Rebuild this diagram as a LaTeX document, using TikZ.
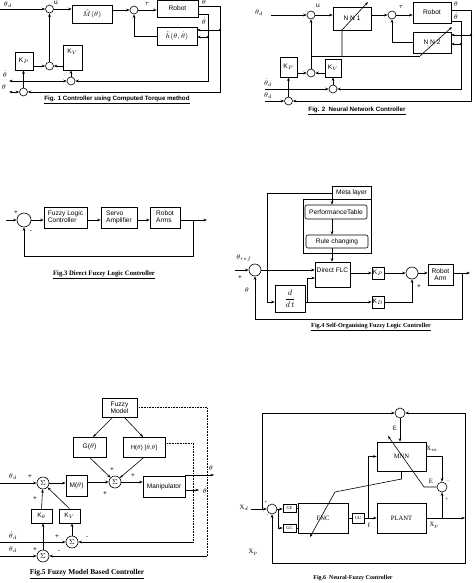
\documentclass[tikz,border=0pt]{standalone}
\usepackage{fontspec}
\setmainfont{Liberation Sans}
\newfontfamily\serifA{Liberation Serif}
\usetikzlibrary{arrows.meta,fit}
\newcommand\fsa{\fontsize{6.6}{7.2}\selectfont}
\newcommand\fsb{\fontsize{4.4}{5}\selectfont}
\newcommand\mybox[6]{\node[bx,fit={(#2,#3) (#4,#5)},label={[lbl]center:{#6}}] (#1) {};}
\begin{document}
\begin{tikzpicture}[x=1pt,y=-1pt,
  ln/.style={line width=0.6pt},
  ar/.style={line width=0.6pt,-{Stealth[length=3.5pt,width=2.6pt]}},
  arr/.style={line width=0.6pt,{Stealth[length=3.5pt,width=2.6pt]}-{Stealth[length=3.5pt,width=2.6pt]}},
  bx/.style={draw,line width=0.6pt,inner sep=0pt},
  lbl/.style={font=\fsa,align=center,inner sep=0pt},
  txt/.style={font=\fsa,inner sep=0pt},
  sg/.style={font=\fsa,inner sep=0pt},
  sm/.style={draw,circle,line width=0.6pt,inner sep=0pt,minimum size=8pt},
  sig/.style={draw,circle,line width=0.6pt,inner sep=0pt,minimum size=12pt,font=\fsa},
  capa/.style={font=\fontsize{6.2}{7}\selectfont\bfseries,inner sep=0pt},
  dt/.style={circle,fill,inner sep=0pt,minimum size=2.6pt}]
\useasboundingbox (0,0) rectangle (474,583);
\fill[white] (0,0) rectangle (474,583);

% ---------------- Fig 1 ----------------
\node[sm] (a1) at (49.5,9) {};
\mybox{aM}{72}{5}{112}{23}{$\hat M(\theta)$}
\node[sm] (a2) at (134,10) {};
\mybox{aR}{157}{0}{198}{17}{Robot}
\mybox{aH}{157}{27}{197}{45}{$\hat h(\theta,\dot\theta)$}
\mybox{aKp}{15}{52}{33}{70}{K$_P$}
\node[bx,fit={(63,45) (82,70)}] (aKv) {};
\node[txt] (aKvt) at (72.5,52) {K$_V$};
\node[sm] (a3) at (49.5,66) {};
\node[sm] (a4) at (71,81) {};
\node[sm] (a5) at (23.5,92) {};
\coordinate (aIn) at (0,9);
\draw[ar] (aIn) -- (a1);
\draw[ar] (a1) -- (a1 -| aM.west);
\draw[ar] (aM.east |- a2) -- (a2);
\draw[ar] (a2) -- (a2 -| aR.west);
\draw[ar] (198,6) -- (220,6) -- (220,92) -- (a5);
\draw[ar] (198,14) -- (208,14) -- (208,81) -- (a4);
\node[dt] (aD1) at (220,30) {};
\node[dt] (aD2) at (208,37) {};
\draw[ar] (aD1) -- (197,30);
\draw[ar] (aD2) -- (197,37);
\draw[ar] (aH.west) -- (134,36) -- (a2);
\draw[ar] (a3) -- (a1);
\draw[ar] (aKp.east |- a3) -- (a3);
\draw[ar] (aKv.west |- a3) -- (a3);
\draw[ar] (a4) -- (a4 |- aKv.south);
\draw[ar] (a5) -- (a5 |- aKp.south);
\coordinate (aL1) at (9,81);
\coordinate (aL2) at (9,92);
\draw[arr] (aL1) -- (a4);
\draw[arr] (aL2) -- (a5);
\node[txt] (aTdd) at (8,3.5) {$\ddot\theta_d$};
\node[txt] (au) at (56,2.5) {u};
\node[txt] (atau) at (147,3.5) {$\tau$};
\node[txt] (ath) at (204,2.5) {$\theta$};
\node[txt] (athd) at (204,21.5) {$\dot\theta$};
\node[txt] (aLd) at (5,74.5) {$\dot\theta$};
\node[txt] (aLt) at (4,87) {$\theta$};
\node[capa] (acap) at (117,100) {\underline{Fig. 1 Controller using Computed Torque method}};

% ---------------- Fig 2 ----------------
\node[sm] (b1) at (311,15) {};
\mybox{bN1}{333}{7}{371}{30}{N N 1}
\node[sm] (b2) at (392,15) {};
\mybox{bR}{413}{2}{451}{23}{Robot}
\mybox{bN2}{413}{32}{451}{53}{N N 2}
\mybox{bKp}{280}{57}{297}{77}{K$_P$}
\mybox{bKv}{325}{59}{341}{77}{K$_V$}
\node[sm] (b3) at (311,73) {};
\node[sm] (b4) at (333,89) {};
\node[sm] (b5) at (288.5,101) {};
\coordinate (bIn) at (271,15);
\draw[ar] (bIn) -- (b1);
\draw[ar] (b1) -- (b1 -| bN1.west);
\draw[ar] (bN1.east |- b2) -- (b2);
\draw[ar] (b2) -- (b2 -| bR.west);
\draw[ar] (451,10) -- (471,10) -- (471,101) -- (b5);
\draw[ar] (451,21) -- (461,21) -- (461,89) -- (b4);
\node[dt] (bD1) at (471,35) {};
\node[dt] (bD2) at (461,44) {};
\draw[ar] (bD1) -- (451,35);
\draw[ar] (bD2) -- (451,44);
\draw[ar] (bN2.west) -- (392,42.5) -- (b2);
\draw[ar] (b3) -- (b1);
\draw[ar] (bKp.east |- b3) -- (b3);
\draw[ar] (bKv.west |- b3) -- (b3);
\draw[ar] (b4) -- (b4 |- bKv.south);
\draw[ar] (b5) -- (b5 |- bKp.south);
\coordinate (bL1) at (265,89);
\coordinate (bL2) at (265,101);
\draw[ar] (bL1) -- (b4);
\draw[ar] (bL2) -- (b5);
\draw[ln] (311,56) -- (420,56);
\draw[ar] (420,56) -- (452,27);
\draw[ar] (342,56) -- (342,30) -- (368,2);
\node[txt] (btd) at (259,12.5) {$\theta_d$};
\node[txt] (bu) at (318,5.5) {u};
\node[txt] (btau) at (401,7) {$\tau$};
\node[txt] (bth) at (456,4.5) {$\theta$};
\node[txt] (bthd) at (456,16.5) {$\dot\theta$};
\node[txt] (bLd) at (268,83) {$\dot\theta_d$};
\node[txt] (bLt) at (268,96) {$\theta_d$};
\node[capa] (bcap) at (357,111) {\underline{Fig. 2\ \ Neural Network Controller}};

% ---------------- Fig 3 ----------------
\node[sm,minimum size=14pt] (c1) at (24,220) {};
\mybox{cF}{44}{207}{87}{228}{\begin{tabular}{@{}l@{}}Fuzzy Logic\\Controller\end{tabular}}
\mybox{cS}{101}{207}{137}{228}{\begin{tabular}{@{}l@{}}Servo\\Amplifier\end{tabular}}
\mybox{cR}{150}{207}{180}{228}{\begin{tabular}{@{}l@{}}Robot\\Arms\end{tabular}}
\coordinate (cIn) at (6,220);
\coordinate (cOut) at (207,220);
\draw[ar] (cIn) -- (c1);
\draw[ar] (c1) -- (c1 -| cF.west);
\draw[ar] (cF.east |- c1) -- (c1 -| cS.west);
\draw[ar] (cS.east |- c1) -- (c1 -| cR.west);
\draw[ar] (cR.east |- c1) -- (cOut);
\draw[ar] (193,220) -- (193,256) -- (24,256) -- (c1);
\node[sg] (cp) at (16,213) {+};
\node[sg] (cm) at (31,231) {-};
\node[inner sep=0pt,font=\fontsize{6.7}{7}\selectfont\serifA\bfseries] (ccap) at (104,275) {\underline{Fig.3 Direct Fuzzy Logic Controller}};

% ---------------- Fig 4 ----------------
\node[draw,line width=0.4pt,fit={(303,199) (371,253)},inner sep=0pt] (dMeta) {};
\node[draw,line width=0.4pt,fit={(332,186) (371,199)},inner sep=0pt,label={[lbl]center:Meta layer}] (dTab) {};
\node[draw,rounded corners=2pt,line width=0.6pt,fit={(305,205) (367,219)},inner sep=0pt,label={[lbl]center:PerformanceTable}] (dPT) {};
\node[draw,rounded corners=2pt,line width=0.6pt,fit={(306,235) (368,248)},inner sep=0pt,label={[lbl]center:Rule changing}] (dRC) {};
\coordinate (dx) at (332,0);
\draw[ar] (dx |- dPT.south) -- (dx |- dRC.north);
\node[bx,fit={(315,262) (350,287)}] (dF) {};
\node[txt] (dFt) at (332.5,270) {Direct FLC};
\draw[ar] (dx |- dRC.south) -- (dx |- dF.north);
\node[sm,minimum size=12pt] (d1) at (255,270) {};
\coordinate (dIn) at (235,270);
\draw[ar] (dIn) -- (d1);
\draw[ar] (d1) -- (d1 -| dF.west);
\draw[ar] (267,270) -- (267,193) -- (332,193) -- (dx |- dPT.north);
\mybox{dD}{275}{285}{305}{312}{\fontsize{8}{9}\selectfont$\displaystyle\frac{d}{d\,t}$}
\draw[ar] (267,270) -- (267,302) -- (dD.west |- 0,302);
\mybox{dKD}{372}{296}{384}{308}{K$_D$}
\mybox{dKP}{372}{267}{384}{279}{K$_P$}
\draw[ar] (dD.east |- dKD) -- (dKD);
\draw[ar] (307.5,302) -- (307.5,278) -- (315,278);
\draw[ar] (dF.east |- dKP) -- (dKP);
\node[sm,minimum size=12pt] (d2) at (412,273) {};
\draw[ar] (dKP) -- (d2);
\draw[ar] (dKD) -- (d2 |- dKD) -- (d2);
\mybox{dRA}{428}{264}{453}{285}{Robot\\Arm}
\draw[ar] (d2) -- (d2 -| dRA.west);
\coordinate (dOut) at (470,273);
\draw[ar] (dRA.east |- d2) -- (dOut);
\draw[ar] (462,273) -- (462,319) -- (255,319) -- (d1);
\node[txt] (dref) at (244,258.5) {$\theta_{ref}$};
\node[sg] (dp1) at (240,278) {+};
\node[sg] (dp2) at (419,287) {+};
\node[txt] (dth) at (247,290) {$\theta$};
\node[inner sep=0pt,font=\fontsize{6.2}{7}\selectfont\serifA\bfseries] (dcap) at (371,327) {\underline{Fig.4 Self-Organising Fuzzy Logic Controller}};

% ---------------- Fig 5 ----------------
\mybox{eFM}{102}{398}{137}{417}{Fuzzy\\Model}
\mybox{eG}{73}{437}{106}{457}{G($\theta$)}
\mybox{eH}{123}{437}{165}{457}{\fontsize{6}{7}\selectfont H($\theta$) [$\dot\theta$,$\theta$]}
\draw[ar] (113,417) -- (93,437);
\draw[ar] (124,417) -- (143,437);
\node[sig] (e1) at (43,483) {$\Sigma$};
\mybox{eM}{66}{475}{87}{496}{M($\theta$)}
\node[sig] (e2) at (115,482) {$\Sigma$};
\mybox{eMa}{143}{476}{185}{497}{Manipulator}
\mybox{eKt}{31}{509}{52}{523}{K$_\theta$}
\mybox{eKv}{59}{509}{80}{523}{K$_V$}
\node[sig] (e3) at (72,542) {$\Sigma$};
\node[sig] (e4) at (43,556) {$\Sigma$};
\coordinate (eIn) at (0,483);
\draw[ar] (eIn) -- (e1);
\draw[ar] (e1) -- (e1 -| eM.west);
\draw[ar] (eM.east |- e2) -- (e2);
\draw[ar] (e2) -- (e2 -| eMa.west);
\draw[ar] (eG.south) -- (e2);
\draw[ar] (eH.south) -- (e2);
\draw[ar] (185,475) -- (214,475);
\draw[ar] (185,490) -- (199,490);
\draw[ar] (eKt.north) -- (e1);
\draw[ar] (eKv.north) -- (e1);
\draw[ar] (e3) -- (e3 |- eKv.south);
\draw[ar] (e4) -- (e4 |- eKt.south);
\coordinate (eL1) at (0,542);
\coordinate (eL2) at (0,556);
\draw[ar] (eL1) -- (e3);
\draw[ar] (eL2) -- (e4);
\draw[ln,densely dotted] (eFM.east) -- (207,407.5) -- (207,556);
\draw[ar] (207,556) -- (e4);
\draw[ln,densely dotted] (eH.east |- 0,443) -- (193,443) -- (193,542);
\draw[ar] (193,542) -- (e3);
\node[txt] (etd) at (13,476.5) {$\theta_d$};
\node[txt] (etdd) at (13,536) {$\dot\theta_d$};
\node[txt] (etd2) at (13,549.5) {$\theta_d$};
\node[txt] (eo1) at (211,468) {$\theta$};
\node[txt] (eo2) at (205,490) {$\dot\theta$};
\node[sg] (ep1) at (30,477) {+};
\node[sg] (ep2) at (35,499) {+};
\node[sg] (ep3) at (112,470) {+};
\node[sg] (ep4) at (105,494) {+};
\node[sg] (ep5) at (133,476) {+};
\node[sg] (ep6) at (57,537) {+};
\node[sg] (em6) at (87,537) {-};
\node[sg] (ep7) at (35,550) {+};
\node[sg] (em7) at (59,551) {-};
\node[inner sep=0pt,font=\fontsize{7.4}{8}\selectfont\serifA\bfseries] (ecap) at (87,574) {\underline{Fig.5 Fuzzy Model Based Controller}};

% ---------------- Fig 6 ----------------
\node[sm,minimum size=10pt] (f1) at (400,413) {};
\node[sm,minimum size=10pt] (f2) at (272,509) {};
\node[sm,minimum size=10pt] (f3) at (442,487) {};
\mybox{fMNN}{377}{442}{426}{471}{\serifA MNN}
\mybox{fFNC}{298}{503}{348}{533}{\serifA FNC}
\mybox{fGE}{283}{504}{296}{512}{\fsb\serifA GE}
\mybox{fGC}{283}{524}{296}{532}{\fsb\serifA GC}
\mybox{fGU}{352}{513}{364}{523}{\fsb\serifA GU}
\mybox{fPL}{377}{503}{426}{533}{\serifA PLANT}
\coordinate (fIn) at (251,509);
\draw[ar] (fIn) -- (f2);
\draw[ar] (262,509) -- (262,413) -- (f1);
\draw[ar] (465,518) -- (465,413) -- (f1);
\draw[ar] (f1) -- (f1 |- fMNN.north);
\draw[ar] (fMNN.east) -- (442,456.5) -- (f3);
\draw[ar] (442,518) -- (f3);
\draw[ar] (f3) -- (424,487) -- (388,436);
\draw[ar] (fMNN.south) -- (401.5,479) -- (335,492) -- (310,537);
\draw[ar] (368,518) -- (368,456.5) -- (fMNN.west);
\draw[ar] (f2) -- (f2 -| fGE.west);
\draw[ar] (278,509) -- (278,528) -- (fGC.west);
\draw[ln] (fGE.east) -- (fGE.east -| fFNC.west);
\draw[ln] (fGC.east) -- (fGC.east -| fFNC.west);
\draw[ln] (fFNC.east |- fGU) -- (fGU);
\draw[ar] (fGU.east) -- (fGU.east -| fPL.west);
\coordinate (fOut) at (465,518);
\draw[ar] (fPL.east) -- (fOut);
\draw[ar] (fOut) -- (465,563) -- (272,563) -- (f2);
\node[txt,font=\fsa\serifA] (fXd) at (244,508) {X$_d$};
\node[txt,font=\fsa\serifA] (fE1) at (395,428) {E};
\node[txt,font=\fsa\serifA] (fXm) at (432,449) {X$_m$};
\node[txt,font=\fsa\serifA] (fE2) at (431,481) {E};
\node[txt,font=\fsa\serifA] (ff) at (369,525) {f};
\node[txt,font=\fsa\serifA] (fXp1) at (434,525) {X$_p$};
\node[txt,font=\fsa\serifA] (fXp2) at (253,552) {X$_p$};
\node[sg,font=\fsb] (fs1) at (266,502) {+};
\node[sg,font=\fsb] (fs2) at (267,516) {-};
\node[sg,font=\fsb] (fs3) at (448,482) {-};
\node[sg,font=\fsb] (fs4) at (447,499) {+};
\node[inner sep=0pt,font=\fontsize{6}{7}\selectfont\serifA\bfseries] (fcap) at (353,578) {Fig.6\ \ Neural-Fuzzy Controller};
\end{tikzpicture}
\end{document}
